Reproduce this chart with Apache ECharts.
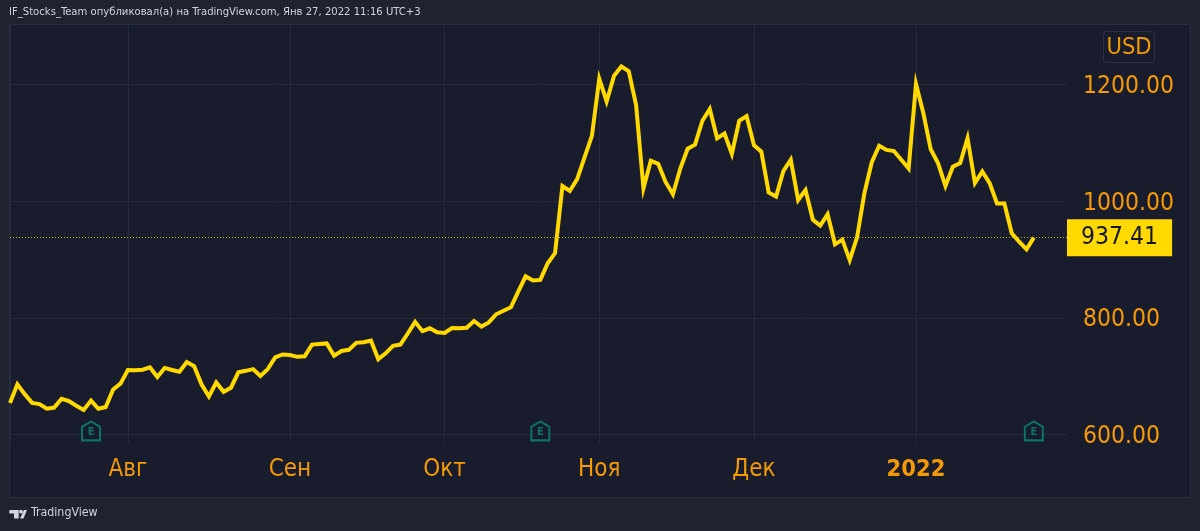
<!DOCTYPE html>
<html>
<head>
<meta charset="utf-8">
<title>IF_Stocks_Team</title>
<script src="https://cdn.jsdelivr.net/npm/echarts@6/dist/echarts.min.js"></script>
<style>
html, body { margin: 0; padding: 0; background: #1f2330; }
#main { width: 1200px; height: 531px; }
</style>
</head>
<body>
<div id="main"></div>
<script>
'use strict';
// closing price per trading day
var prices = [
  654, 686, 669, 654, 652, 644, 646, 661, 657, 649,
  642, 658, 644, 647, 677, 687, 710.5, 710, 711, 715,
  698.5, 714, 710.5, 707.5, 724, 717, 686, 665, 689, 673,
  680, 706.5, 709, 712, 700, 712, 732, 737, 736, 733,
  734, 754, 755, 756, 735, 743, 745, 757, 758, 761,
  729, 739, 752, 754, 773, 793, 777, 782, 775, 774,
  782.5, 782, 783, 794.5, 785, 792, 806, 812, 818, 845,
  871, 864, 865, 893.5, 911, 1026, 1017.5, 1038, 1075, 1112,
  1210, 1171, 1215, 1231, 1223, 1165, 1022, 1069.5, 1064, 1033,
  1012, 1056, 1090, 1097, 1138, 1158, 1108, 1116, 1081, 1138,
  1146, 1096, 1085, 1015, 1008, 1052, 1071, 1002, 1019, 968,
  958, 977.5, 926, 934, 899, 938, 1014, 1067, 1095, 1088,
  1086, 1071, 1056, 1201, 1151, 1089, 1065, 1026, 1059, 1065.5,
  1108, 1031, 1051, 1031, 996, 996, 945, 930.5, 917.5, 937.41
];
// month starts, as trading day numbers
var monthDays = [16, 38, 59, 80, 101, 123];
var monthLabels = ['Авг', 'Сен', 'Окт', 'Ноя', 'Дек', '2022'];
var priceTicks = [600, 800, 1000, 1200];
var lastPrice = 937.41;
// earnings marks
var earningsDays = [11, 72, 139];
var earningsLevel = 606;

var orange = '#f59a07';
var yellow = '#ffd900';
var teal = '#0a8a76';
var gridColor = '#252a3a';
var panelColor = '#181c2c';
var font = '"DejaVu Sans Condensed", "DejaVu Sans", sans-serif';

var myChart = echarts.init(document.getElementById('main'));

var option = {
  animation: false,
  backgroundColor: '#1f2330',
  textStyle: { fontFamily: font },
  grid: { left: 10, top: 25, width: 1057, height: 418, containLabel: false },
  xAxis: {
    type: 'value',
    min: 0,
    max: 143.5,
    axisLine: { show: false },
    axisTick: { show: false, customValues: monthDays },
    splitLine: { show: true, lineStyle: { color: gridColor, width: 1 } },
    axisLabel: {
      customValues: monthDays,
      margin: 15,
      color: orange,
      fontSize: 24,
      fontFamily: font,
      formatter: function (val) {
        var label = monthLabels[monthDays.indexOf(val)];
        return label === '2022' ? '{year|' + label + '}' : label;
      },
      rich: { year: { fontSize: 23.5, fontWeight: 'bold', color: orange, fontFamily: font } }
    }
  },
  yAxis: {
    type: 'value',
    position: 'right',
    min: 585.2,
    max: 1302.2,
    axisLine: { show: true, lineStyle: { color: gridColor } },
    axisTick: { show: false, customValues: priceTicks },
    splitLine: { show: true, lineStyle: { color: gridColor, width: 1 } },
    axisLabel: {
      customValues: priceTicks,
      margin: 16,
      formatter: function (val) { return '{p|' + val.toFixed(2) + '}'; },
      rich: { p: { color: orange, fontSize: 24.5, fontFamily: font, padding: [4, 0, 0, 0] } }
    }
  },
  series: [
    {
      type: 'line',
      data: prices.map(function (p, i) { return [i, p]; }),
      symbol: 'none',
      clip: false,
      z: 3,
      lineStyle: { color: yellow, width: 4, join: 'miter' },
      markLine: {
        silent: true,
        symbol: 'none',
        animation: false,
        data: [{ yAxis: lastPrice }],
        lineStyle: { color: '#c9ab12', type: [1, 2], width: 1 },
        label: {
          show: true,
          position: 'end',
          distance: 0,
          formatter: lastPrice.toFixed(2),
          backgroundColor: yellow,
          color: '#131722',
          fontSize: 24.5,
          fontFamily: font,
          padding: [8, 14, 4, 14]
        }
      }
    },
    {
      type: 'scatter',
      data: earningsDays.map(function (d) { return [d, earningsLevel]; }),
      symbol: 'path://M1,6 L9,1 L17,6 L17,18 L1,18 Z',
      symbolSize: [18, 19],
      z: 4,
      itemStyle: { color: panelColor, borderColor: teal, borderWidth: 2 },
      label: {
        show: true,
        position: 'inside',
        offset: [0, 1],
        formatter: 'E',
        color: teal,
        fontSize: 11,
        fontWeight: 'bold',
        fontFamily: font
      }
    }
  ],
  graphic: [
    // chart panel behind the grid
    {
      type: 'rect', z: -1, silent: true,
      shape: { x: 9.5, y: 24.5, width: 1181, height: 473 },
      style: { fill: panelColor, stroke: '#2a2f3d', lineWidth: 1 }
    },
    // publisher line
    {
      type: 'text', left: 9, top: 7, silent: true,
      style: {
        text: 'IF_Stocks_Team опубликовал(а) на TradingView.com, Янв 27, 2022 11:16 UTC+3',
        fill: '#d1d4dc', fontSize: 11.2, fontFamily: font
      }
    },
    // currency badge
    {
      type: 'rect', silent: true,
      shape: { x: 1103.5, y: 31.5, width: 51, height: 31, r: 3 },
      style: { fill: panelColor, stroke: '#2d3240', lineWidth: 1 }
    },
    {
      type: 'text', silent: true, x: 1129, y: 48,
      style: { text: 'USD', fill: orange, fontSize: 23.5, fontFamily: font, align: 'center', verticalAlign: 'middle' }
    },
    // TradingView logo and name
    {
      type: 'polygon', silent: true,
      shape: { points: [[9.3, 510], [18.7, 510], [18.7, 518.5], [14, 518.5], [14, 513.5], [9.3, 513.5]] },
      style: { fill: '#d1d4dc' }
    },
    {
      type: 'circle', silent: true,
      shape: { cx: 21, cy: 511.7, r: 1.9 },
      style: { fill: '#d1d4dc' }
    },
    {
      type: 'polygon', silent: true,
      shape: { points: [[20, 518.5], [24, 510], [27, 510], [23.5, 518.5]] },
      style: { fill: '#d1d4dc' }
    },
    {
      type: 'text', silent: true, left: 31, top: 507,
      style: { text: 'TradingView', fill: '#d1d4dc', fontSize: 12.3, fontFamily: font }
    }
  ]
};

myChart.setOption(option);
</script>
</body>
</html>
